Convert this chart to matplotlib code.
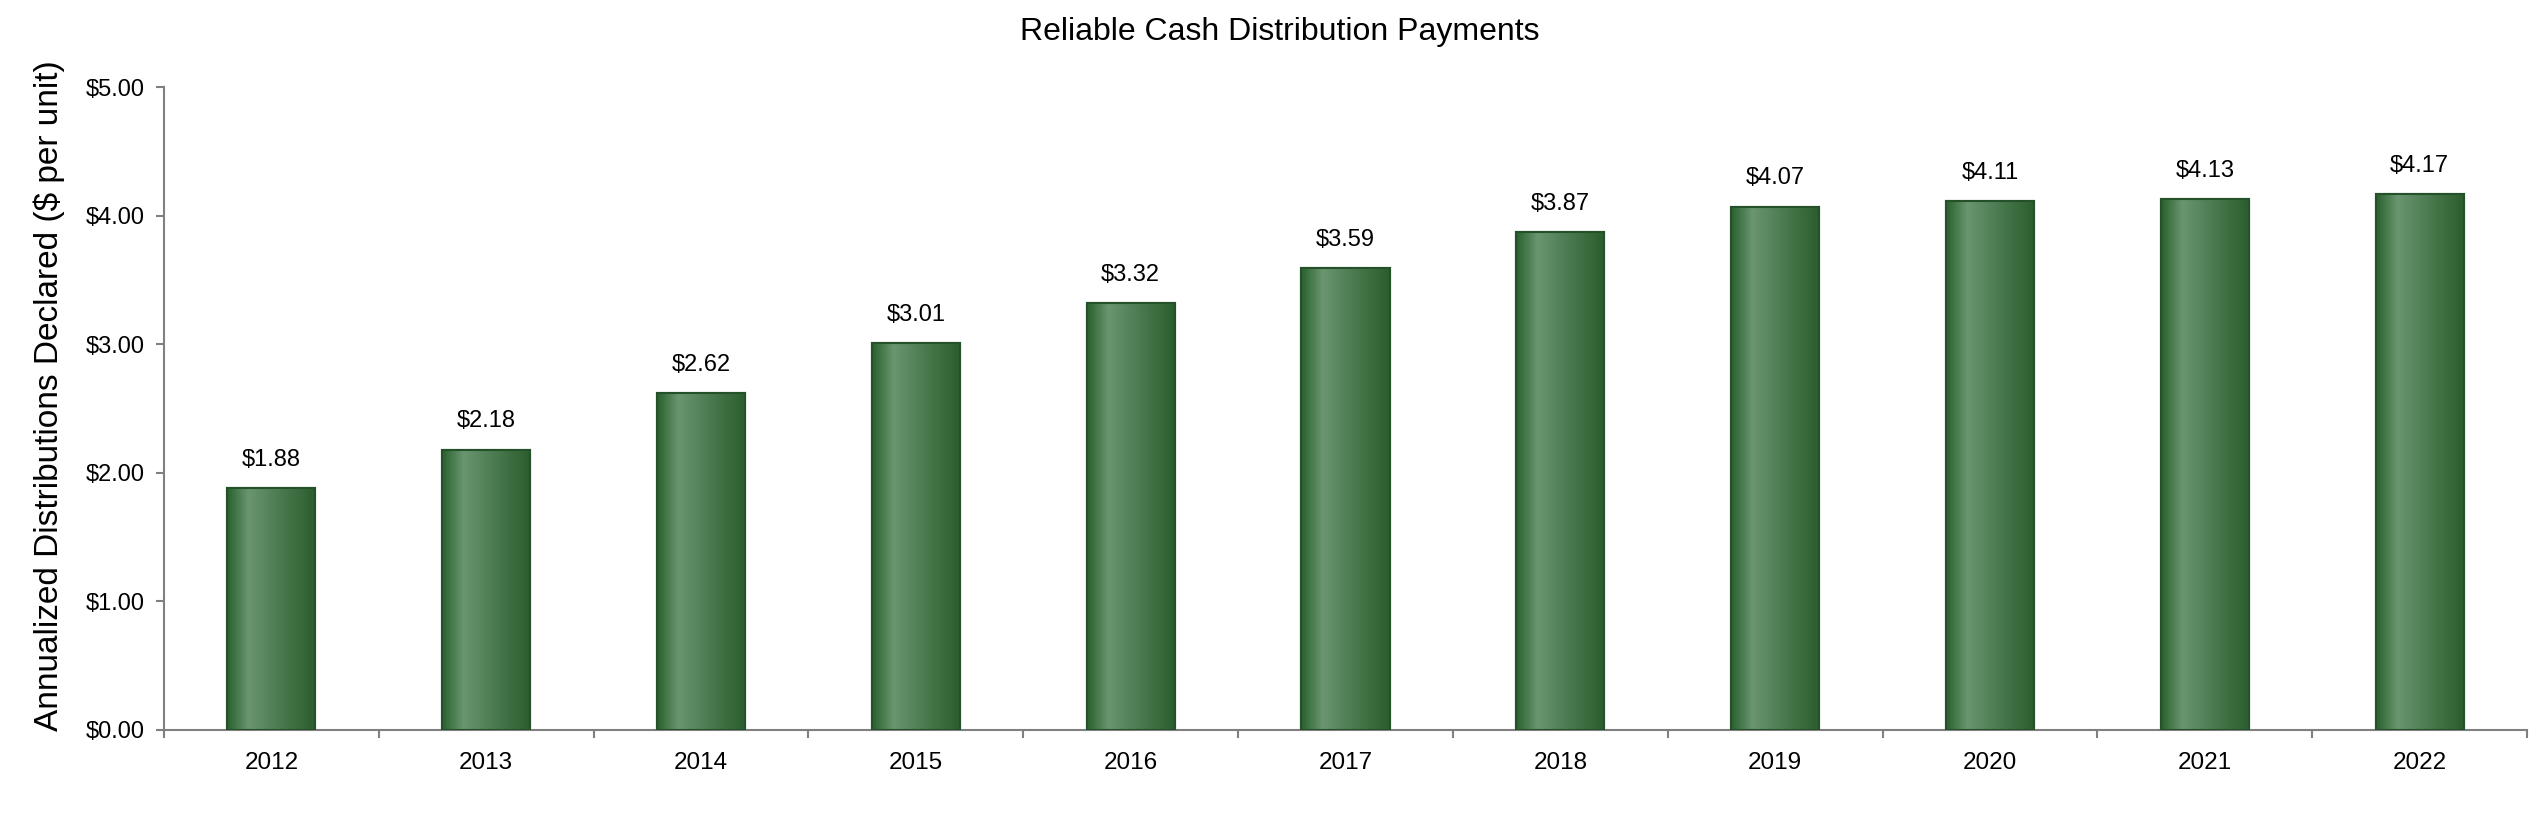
import numpy as np
import matplotlib
matplotlib.use("Agg")
import matplotlib.pyplot as plt
from matplotlib import font_manager as fm
from matplotlib.colors import LinearSegmentedColormap

years = ["2012", "2013", "2014", "2015", "2016", "2017", "2018", "2019", "2020", "2021", "2022"]
values = [1.88, 2.18, 2.62, 3.01, 3.32, 3.59, 3.87, 4.07, 4.11, 4.13, 4.17]
yticks = [0, 1, 2, 3, 4, 5]

names = {f.name for f in fm.fontManager.ttflist}
base = "Liberation Sans" if "Liberation Sans" in names else "DejaVu Sans"
narrow = "Liberation Sans Narrow" if "Liberation Sans Narrow" in names else base
plt.rcParams["font.family"] = [base, "DejaVu Sans"]

W, H = 2544, 824
fig = plt.figure(figsize=(W / 100, H / 100), dpi=100)
ax = fig.add_axes([164 / W, 1 - 730 / H, (2527 - 164) / W, (730 - 87) / H])

x = np.arange(len(years))
width = 0.41
grad = LinearSegmentedColormap.from_list(
    "g", [(0.0, "#2c5f30"), (0.08, "#3d7242"), (0.24, "#6a9570"),
          (0.55, "#4e7e53"), (1.0, "#2a5d2d")])
gimg = np.linspace(0, 1, 256).reshape(1, -1)

bars = ax.bar(x, values, width=width, color="#4a7a4f", edgecolor="#24512a",
              linewidth=1.5, zorder=2)
for b in bars:
    x0, w, h = b.get_x(), b.get_width(), b.get_height()
    im = ax.imshow(gimg, cmap=grad, extent=[x0, x0 + w, 0, h], aspect="auto",
                   zorder=3, interpolation="bilinear")
    im.set_clip_path(b)
ax.bar(x, values, width=width, facecolor="none", edgecolor="#24512a",
       linewidth=1.5, zorder=4)

for xi, v in zip(x, values):
    ax.annotate(f"${v:.2f}", (xi, v), xytext=(0, 16), textcoords="offset points",
                ha="center", va="baseline", fontsize=17, color="black")

ax.set_xlim(-0.5, len(years) - 0.5)
ax.set_ylim(0, 5)
ax.set_yticks(yticks)
ax.set_yticklabels([f"${t:.2f}" for t in yticks])
ax.set_xticks(x)
ax.set_xticklabels(years)
ax.set_xticks(np.arange(len(years) + 1) - 0.5, minor=True)
ax.tick_params(axis="x", which="major", length=0, pad=16, labelsize=17.5)
ax.tick_params(axis="x", which="minor", length=6, width=1.5, color="#808080")
ax.tick_params(axis="y", length=6, width=1.5, color="#808080", pad=8, labelsize=17)

for s in ["top", "right"]:
    ax.spines[s].set_visible(False)
for s in ["left", "bottom"]:
    ax.spines[s].set_color("#808080")
    ax.spines[s].set_linewidth(1.5)

fig.text(1280 / W, 1 - 32 / H, "Reliable Cash Distribution Payments",
         ha="center", va="center", fontsize=23)

ylab = fig.text(49 / W, 1 - 731 / H, "Annualized Distributions Declared ($ per unit)",
                ha="center", va="bottom", rotation=90, fontsize=25,
                family=[narrow, "DejaVu Sans"])
# fit the label to the length it has in the reference (about 673 px)
fig.canvas.draw()
ext = ylab.get_window_extent(renderer=fig.canvas.get_renderer())
if ext.height > 680:
    ylab.set_fontsize(25 * 673 / ext.height)

fig.savefig("out.png", dpi=100, facecolor="white")
